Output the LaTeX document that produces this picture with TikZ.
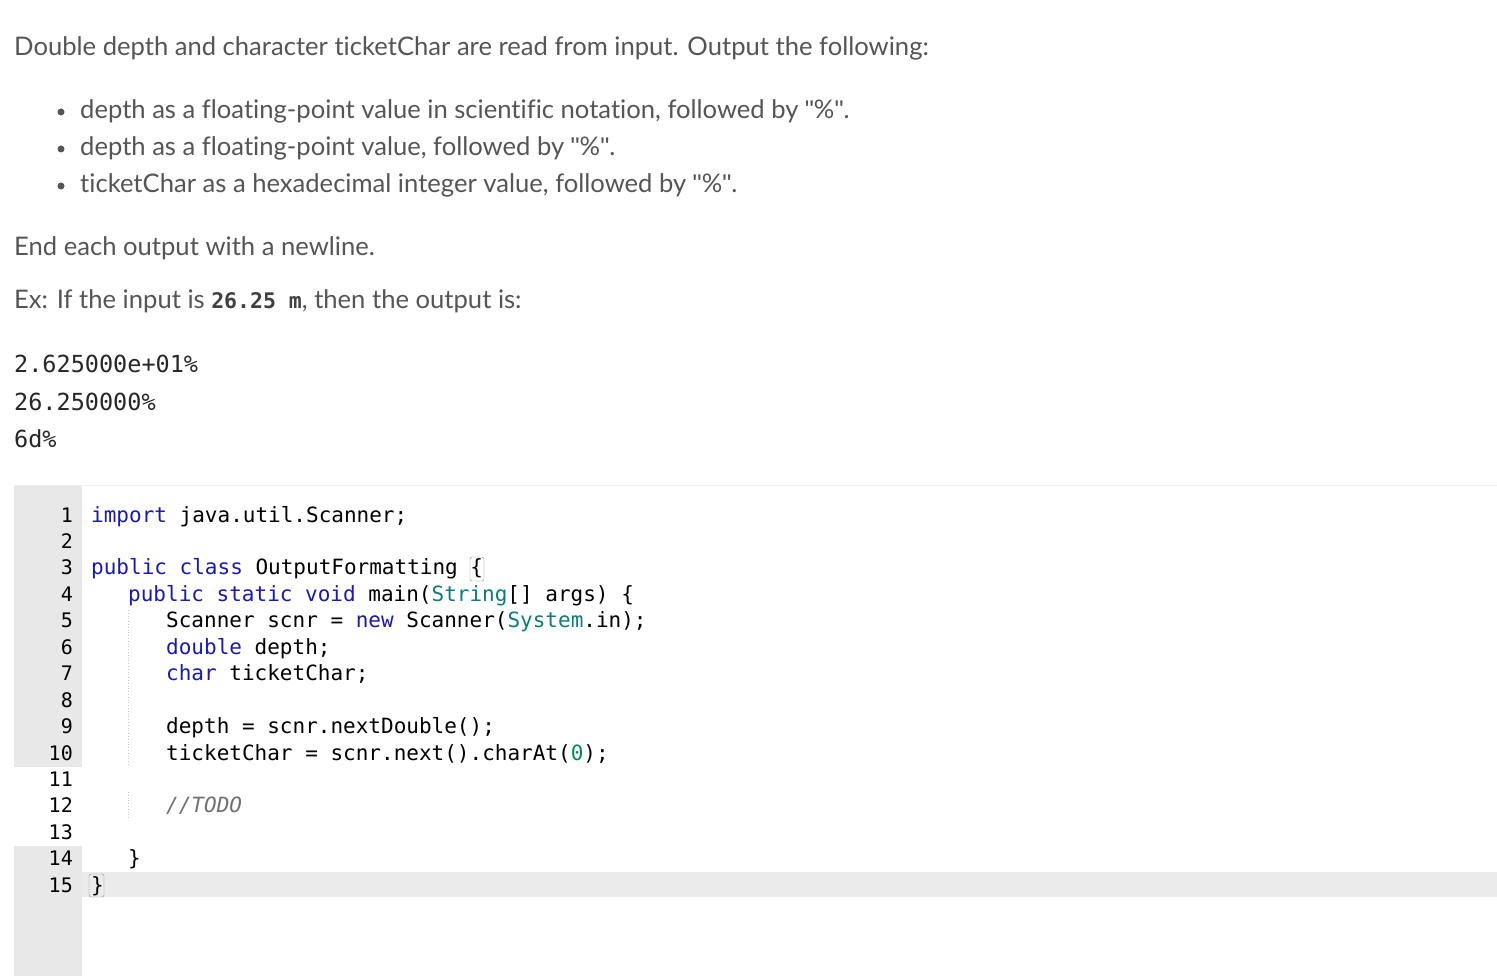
\documentclass[tikz,border=0pt]{standalone}
\usepackage{fontspec}
\setmainfont{Lato}[Ligatures=NoCommon]
\setmonofont{DejaVu Sans Mono}
\newfontfamily\qfont{Liberation Sans}
\definecolor{txt}{HTML}{555555}
\definecolor{kw}{HTML}{1A1AA6}
\definecolor{ty}{HTML}{117A7A}
\definecolor{num}{HTML}{098658}
\definecolor{cm}{HTML}{707070}
\definecolor{gut}{HTML}{E8E8E8}
\newcommand{\dq}{{\qfont\char"0022\relax}}
\begin{document}
\begin{tikzpicture}[x=1pt,y=-1pt,
  t/.style={anchor=base west,inner sep=0,text=txt,font=\fontsize{25.6}{28}\selectfont},
  o/.style={anchor=base west,inner sep=0,text=black!85,font=\ttfamily\fontsize{23.5}{24}\selectfont},
  c/.style={anchor=base west,inner sep=0,text=black,font=\ttfamily\fontsize{21}{24}\selectfont},
  ln/.style={anchor=base east,inner sep=0,text=black,font=\ttfamily\fontsize{20}{24}\selectfont},
  guide/.style={draw=black!20,dotted,line width=0.8}]
\useasboundingbox (0,0) rectangle (1497,976);
\fill[white] (0,0) rectangle (1497,976);
\node[t] (l1) at (14,56) {Double depth and character ticketChar are read from input. Output the following:};
\foreach \y/\s [count=\i] in {119/{depth as a floating-point value in scientific notation, followed by \dq\%\dq.},156/{depth as a floating-point value, followed by \dq\%\dq.},193/{ticketChar as a hexadecimal integer value, followed by \dq\%\dq.}}{
  \fill[txt] (61,\y-7) circle (3.5);
  \node[t] (b\i) at (80,\y) {\s};
}
\node[t] (end) at (14,256) {End each output with a newline.};
\node[t] (ex) at (14,309) {Ex: If the input is {\ttfamily\bfseries\fontsize{21.5}{24}\selectfont\color{black!75}26.25 m}, then the output is:};
\node[o] (o1) at (14,373) {2.625000e+01\%};
\node[o] (o2) at (14,410) {26.250000\%};
\node[o] (o3) at (14,447) {6d\%};
% code box
\draw[black!6] (14,485) rectangle (1497,976);
\fill[gut] (14,486) rectangle (82,976);
\fill[white] (14,767) rectangle (82,846);
\fill[black!8] (82,872) rectangle (1497,897);
\foreach \i in {1,...,15}{ \node[ln] (n\i) at (73,{522+26.45*(\i-1)}) {\i}; }
\def\Y#1{{522+26.45*(#1-1)}}
\node[c] (c1) at (91,\Y1) {\textcolor{kw}{import} java.util.Scanner;};
\node[c] (c3) at (91,\Y3) {\textcolor{kw}{public class} OutputFormatting {\{}};
\node[c] (c4) at (128,\Y4) {\textcolor{kw}{public static void} main(\textcolor{ty}{String}[] args) \{};
\node[c] (c5) at (166,\Y5) {Scanner scnr = \textcolor{kw}{new} Scanner(\textcolor{ty}{System}.in);};
\node[c] (c6) at (166,\Y6) {\textcolor{kw}{double} depth;};
\node[c] (c7) at (166,\Y7) {\textcolor{kw}{char} ticketChar;};
\node[c] (c9) at (166,\Y9) {depth = scnr.nextDouble();};
\node[c] (c10) at (166,\Y{10}) {ticketChar = scnr.next().charAt(\textcolor{num}{0});};
\node[c] (c12) at (166,\Y{12}) {\textcolor{cm}{\itshape //TODO}};
\node[c] (c14) at (128,\Y{14}) {\}};
\node[c] (c15) at (91,\Y{15}) {\}};
\draw[black!45,rounded corners=2] (470,557) rectangle (484,581);
\draw[black!45,rounded corners=2] (89,874) rectangle (104,897);
\draw[guide] (128,610) -- (128,766);
\draw[guide] (128,792) -- (128,818);
\end{tikzpicture}
\end{document}
